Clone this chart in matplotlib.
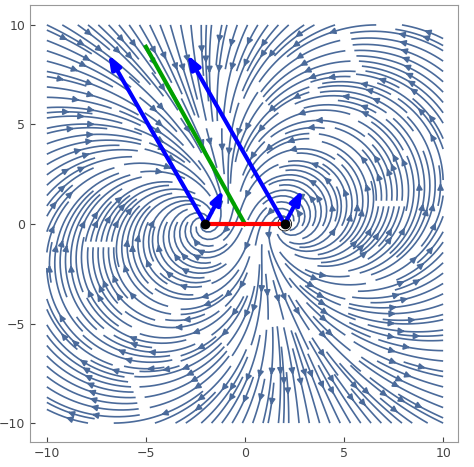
import matplotlib.pyplot as plt
import numpy as np

# point charges / vortex centres
left_pt = (-2.0, 0.0)
right_pt = (2.0, 0.0)
spiral = 0.45

# arrows drawn on top (start, end)
blue_long = [((-2.0, 0.0), (-6.9, 8.5)), ((2.0, 0.0), (-2.9, 8.5))]
blue_short = [((-2.0, 0.0), (-1.1, 1.7)), ((2.0, 0.0), (2.9, 1.7))]
green_line = ((0.0, 0.0), (-5.0, 8.9))
red_line = ((-2.0, 0.0), (2.0, 0.0))


def field(X, Y):
    U = np.zeros_like(X)
    V = np.zeros_like(Y)
    for (px, py), sgn in ((left_pt, -1), (right_pt, 1)):
        dx, dy = X - px, Y - py
        r2 = dx**2 + dy**2 + 1e-9
        U += sgn * (-dy + spiral * dx) / r2
        V += sgn * (dx + spiral * dy) / r2
    return U, V


x = np.linspace(-10, 10, 300)
y = np.linspace(-10, 10, 300)
X, Y = np.meshgrid(x, y)
U, V = field(X, Y)

fig = plt.figure(figsize=(4.74, 4.67), dpi=100)
ax = fig.add_axes([30 / 474, 25 / 467, 428 / 474, 437 / 467])
ax.streamplot(X, Y, U, V, density=2.6, color='#4a6a9a', linewidth=1.2,
              arrowsize=0.9, maxlength=0.5, broken_streamlines=True)

for (s, e) in blue_long + blue_short:
    ax.annotate('', xy=e, xytext=s,
                arrowprops=dict(arrowstyle='-|>,head_width=0.3,head_length=0.8',
                                color='#0000ff', lw=3, shrinkA=0, shrinkB=0))
ax.plot([green_line[0][0], green_line[1][0]], [green_line[0][1], green_line[1][1]],
        color='#00a000', lw=3)
ax.plot([red_line[0][0], red_line[1][0]], [red_line[0][1], red_line[1][1]],
        color='#ff0000', lw=3)
ax.plot([left_pt[0], right_pt[0]], [left_pt[1], right_pt[1]], 'o', color='black', ms=6, zorder=5)
ax.add_patch(plt.Circle(right_pt, 0.35, fill=False, color='black', lw=0.6))

ax.set_xlim(-10.85, 10.75)
ax.set_ylim(-10.95, 11.0)
ax.set_xticks([-10, -5, 0, 5, 10])
ax.set_yticks([-10, -5, 0, 5, 10])
ax.tick_params(labelsize=9, colors='#444444', direction='in')
for sp in ax.spines.values():
    sp.set_color('#999999')

fig.savefig('out.png')
